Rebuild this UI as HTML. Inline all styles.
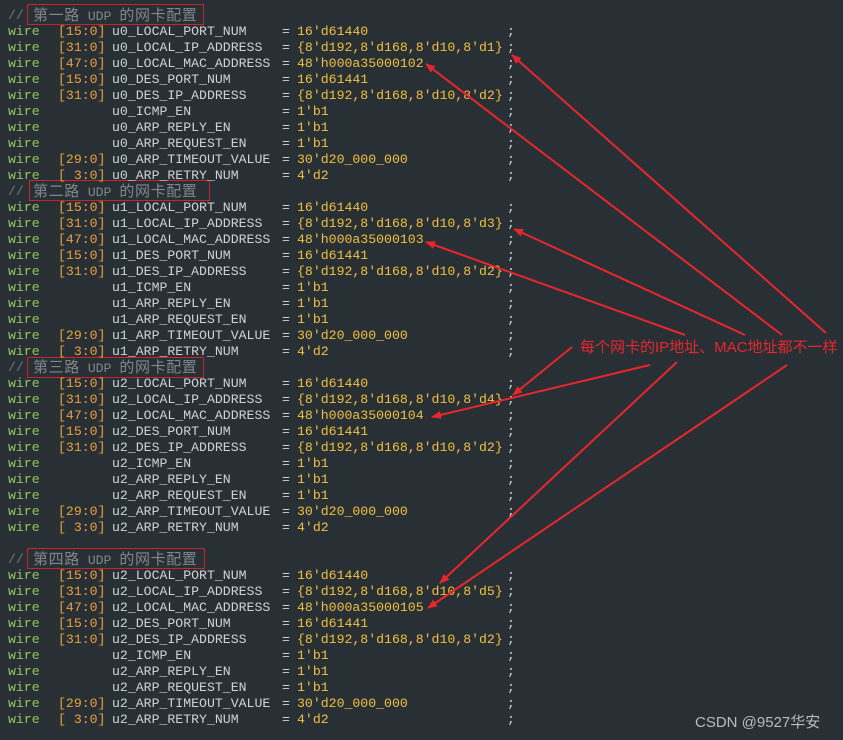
<!DOCTYPE html>
<html><head><meta charset="utf-8"><style>
html,body{margin:0;padding:0;}
body{width:843px;height:740px;background:#283035;position:relative;overflow:hidden;font-family:"Liberation Mono",monospace;font-size:13.2px;color:#cfd3d6;}
.r{position:absolute;left:0;height:16px;line-height:16px;white-space:pre;width:843px;}
.r span{position:absolute;top:0;}
.w{left:8px;color:#93c763}.b{left:58px;color:#e8a23a}.k{left:112px}.e{left:282px}.n{left:297px;color:#f0c040}.s{left:507px}
.c{left:8px;color:#6f7a80}
.cj{left:33px;top:-1px!important;color:#7d878c;font-family:"Liberation Mono","Noto Sans CJK SC",monospace;}
.cj i{font-style:normal;font-family:"Noto Sans CJK SC",sans-serif;font-size:15px;letter-spacing:0.6px;}
.box{position:absolute;height:19px;border:1px solid #c4262b;}
.lab{position:absolute;left:580px;top:338px;color:#e8262b;font-family:"Liberation Sans","Noto Sans CJK SC",sans-serif;font-size:15px;line-height:20px;white-space:nowrap;}
.wm{position:absolute;left:695px;top:711px;color:#b8bcbf;font-family:"Liberation Sans","Noto Sans CJK SC",sans-serif;font-size:15px;}
svg{position:absolute;left:0;top:0;}
</style></head><body>
<div class="box" style="left:27px;top:4px;width:175px;"></div>
<div class="box" style="left:29px;top:180px;width:179px;"></div>
<div class="box" style="left:27px;top:357px;width:175px;"></div>
<div class="box" style="left:27px;top:548px;width:176px;"></div>

<div class="r" style="top:8px"><span class="c">//</span><span class="cj"><i>第一路</i> UDP <i>的网卡配置</i></span></div>
<div class="r" style="top:24px"><span class="w">wire</span><span class="b">[15:0]</span><span class="k">u0_LOCAL_PORT_NUM</span><span class="e">=</span><span class="n">16'd61440</span><span class="s">;</span></div>
<div class="r" style="top:40px"><span class="w">wire</span><span class="b">[31:0]</span><span class="k">u0_LOCAL_IP_ADDRESS</span><span class="e">=</span><span class="n">{8'd192,8'd168,8'd10,8'd1}</span><span class="s">;</span></div>
<div class="r" style="top:56px"><span class="w">wire</span><span class="b">[47:0]</span><span class="k">u0_LOCAL_MAC_ADDRESS</span><span class="e">=</span><span class="n">48'h000a35000102</span><span class="s">;</span></div>
<div class="r" style="top:72px"><span class="w">wire</span><span class="b">[15:0]</span><span class="k">u0_DES_PORT_NUM</span><span class="e">=</span><span class="n">16'd61441</span><span class="s">;</span></div>
<div class="r" style="top:88px"><span class="w">wire</span><span class="b">[31:0]</span><span class="k">u0_DES_IP_ADDRESS</span><span class="e">=</span><span class="n">{8'd192,8'd168,8'd10,8'd2}</span><span class="s">;</span></div>
<div class="r" style="top:104px"><span class="w">wire</span><span class="k">u0_ICMP_EN</span><span class="e">=</span><span class="n">1'b1</span><span class="s">;</span></div>
<div class="r" style="top:120px"><span class="w">wire</span><span class="k">u0_ARP_REPLY_EN</span><span class="e">=</span><span class="n">1'b1</span><span class="s">;</span></div>
<div class="r" style="top:136px"><span class="w">wire</span><span class="k">u0_ARP_REQUEST_EN</span><span class="e">=</span><span class="n">1'b1</span><span class="s">;</span></div>
<div class="r" style="top:152px"><span class="w">wire</span><span class="b">[29:0]</span><span class="k">u0_ARP_TIMEOUT_VALUE</span><span class="e">=</span><span class="n">30'd20_000_000</span><span class="s">;</span></div>
<div class="r" style="top:168px"><span class="w">wire</span><span class="b">[ 3:0]</span><span class="k">u0_ARP_RETRY_NUM</span><span class="e">=</span><span class="n">4'd2</span><span class="s">;</span></div>

<div class="r" style="top:184px"><span class="c">//</span><span class="cj"><i>第二路</i> UDP <i>的网卡配置</i></span></div>
<div class="r" style="top:200px"><span class="w">wire</span><span class="b">[15:0]</span><span class="k">u1_LOCAL_PORT_NUM</span><span class="e">=</span><span class="n">16'd61440</span><span class="s">;</span></div>
<div class="r" style="top:216px"><span class="w">wire</span><span class="b">[31:0]</span><span class="k">u1_LOCAL_IP_ADDRESS</span><span class="e">=</span><span class="n">{8'd192,8'd168,8'd10,8'd3}</span><span class="s">;</span></div>
<div class="r" style="top:232px"><span class="w">wire</span><span class="b">[47:0]</span><span class="k">u1_LOCAL_MAC_ADDRESS</span><span class="e">=</span><span class="n">48'h000a35000103</span><span class="s">;</span></div>
<div class="r" style="top:248px"><span class="w">wire</span><span class="b">[15:0]</span><span class="k">u1_DES_PORT_NUM</span><span class="e">=</span><span class="n">16'd61441</span><span class="s">;</span></div>
<div class="r" style="top:264px"><span class="w">wire</span><span class="b">[31:0]</span><span class="k">u1_DES_IP_ADDRESS</span><span class="e">=</span><span class="n">{8'd192,8'd168,8'd10,8'd2}</span><span class="s">;</span></div>
<div class="r" style="top:280px"><span class="w">wire</span><span class="k">u1_ICMP_EN</span><span class="e">=</span><span class="n">1'b1</span><span class="s">;</span></div>
<div class="r" style="top:296px"><span class="w">wire</span><span class="k">u1_ARP_REPLY_EN</span><span class="e">=</span><span class="n">1'b1</span><span class="s">;</span></div>
<div class="r" style="top:312px"><span class="w">wire</span><span class="k">u1_ARP_REQUEST_EN</span><span class="e">=</span><span class="n">1'b1</span><span class="s">;</span></div>
<div class="r" style="top:328px"><span class="w">wire</span><span class="b">[29:0]</span><span class="k">u1_ARP_TIMEOUT_VALUE</span><span class="e">=</span><span class="n">30'd20_000_000</span><span class="s">;</span></div>
<div class="r" style="top:344px"><span class="w">wire</span><span class="b">[ 3:0]</span><span class="k">u1_ARP_RETRY_NUM</span><span class="e">=</span><span class="n">4'd2</span><span class="s">;</span></div>

<div class="r" style="top:360px"><span class="c">//</span><span class="cj"><i>第三路</i> UDP <i>的网卡配置</i></span></div>
<div class="r" style="top:376px"><span class="w">wire</span><span class="b">[15:0]</span><span class="k">u2_LOCAL_PORT_NUM</span><span class="e">=</span><span class="n">16'd61440</span><span class="s">;</span></div>
<div class="r" style="top:392px"><span class="w">wire</span><span class="b">[31:0]</span><span class="k">u2_LOCAL_IP_ADDRESS</span><span class="e">=</span><span class="n">{8'd192,8'd168,8'd10,8'd4}</span><span class="s">;</span></div>
<div class="r" style="top:408px"><span class="w">wire</span><span class="b">[47:0]</span><span class="k">u2_LOCAL_MAC_ADDRESS</span><span class="e">=</span><span class="n">48'h000a35000104</span><span class="s">;</span></div>
<div class="r" style="top:424px"><span class="w">wire</span><span class="b">[15:0]</span><span class="k">u2_DES_PORT_NUM</span><span class="e">=</span><span class="n">16'd61441</span><span class="s">;</span></div>
<div class="r" style="top:440px"><span class="w">wire</span><span class="b">[31:0]</span><span class="k">u2_DES_IP_ADDRESS</span><span class="e">=</span><span class="n">{8'd192,8'd168,8'd10,8'd2}</span><span class="s">;</span></div>
<div class="r" style="top:456px"><span class="w">wire</span><span class="k">u2_ICMP_EN</span><span class="e">=</span><span class="n">1'b1</span><span class="s">;</span></div>
<div class="r" style="top:472px"><span class="w">wire</span><span class="k">u2_ARP_REPLY_EN</span><span class="e">=</span><span class="n">1'b1</span><span class="s">;</span></div>
<div class="r" style="top:488px"><span class="w">wire</span><span class="k">u2_ARP_REQUEST_EN</span><span class="e">=</span><span class="n">1'b1</span><span class="s">;</span></div>
<div class="r" style="top:504px"><span class="w">wire</span><span class="b">[29:0]</span><span class="k">u2_ARP_TIMEOUT_VALUE</span><span class="e">=</span><span class="n">30'd20_000_000</span><span class="s">;</span></div>
<div class="r" style="top:520px"><span class="w">wire</span><span class="b">[ 3:0]</span><span class="k">u2_ARP_RETRY_NUM</span><span class="e">=</span><span class="n">4'd2</span></div>

<div class="r" style="top:552px"><span class="c">//</span><span class="cj"><i>第四路</i> UDP <i>的网卡配置</i></span></div>
<div class="r" style="top:568px"><span class="w">wire</span><span class="b">[15:0]</span><span class="k">u2_LOCAL_PORT_NUM</span><span class="e">=</span><span class="n">16'd61440</span><span class="s">;</span></div>
<div class="r" style="top:584px"><span class="w">wire</span><span class="b">[31:0]</span><span class="k">u2_LOCAL_IP_ADDRESS</span><span class="e">=</span><span class="n">{8'd192,8'd168,8'd10,8'd5}</span><span class="s">;</span></div>
<div class="r" style="top:600px"><span class="w">wire</span><span class="b">[47:0]</span><span class="k">u2_LOCAL_MAC_ADDRESS</span><span class="e">=</span><span class="n">48'h000a35000105</span><span class="s">;</span></div>
<div class="r" style="top:616px"><span class="w">wire</span><span class="b">[15:0]</span><span class="k">u2_DES_PORT_NUM</span><span class="e">=</span><span class="n">16'd61441</span><span class="s">;</span></div>
<div class="r" style="top:632px"><span class="w">wire</span><span class="b">[31:0]</span><span class="k">u2_DES_IP_ADDRESS</span><span class="e">=</span><span class="n">{8'd192,8'd168,8'd10,8'd2}</span><span class="s">;</span></div>
<div class="r" style="top:648px"><span class="w">wire</span><span class="k">u2_ICMP_EN</span><span class="e">=</span><span class="n">1'b1</span><span class="s">;</span></div>
<div class="r" style="top:664px"><span class="w">wire</span><span class="k">u2_ARP_REPLY_EN</span><span class="e">=</span><span class="n">1'b1</span><span class="s">;</span></div>
<div class="r" style="top:680px"><span class="w">wire</span><span class="k">u2_ARP_REQUEST_EN</span><span class="e">=</span><span class="n">1'b1</span><span class="s">;</span></div>
<div class="r" style="top:696px"><span class="w">wire</span><span class="b">[29:0]</span><span class="k">u2_ARP_TIMEOUT_VALUE</span><span class="e">=</span><span class="n">30'd20_000_000</span><span class="s">;</span></div>
<div class="r" style="top:712px"><span class="w">wire</span><span class="b">[ 3:0]</span><span class="k">u2_ARP_RETRY_NUM</span><span class="e">=</span><span class="n">4'd2</span><span class="s">;</span></div>

<svg width="843" height="740" viewBox="0 0 843 740">
<defs><marker id="a" markerWidth="10" markerHeight="8" refX="9" refY="4" orient="auto" markerUnits="userSpaceOnUse"><path d="M0,0 L10,4 L0,8 z" fill="#e8262b"/></marker></defs>
<g stroke="#e8262b" stroke-width="2" fill="none" marker-end="url(#a)">
<line x1="826" y1="333" x2="512" y2="55"/>
<line x1="782" y1="335" x2="426" y2="64"/>
<line x1="745" y1="335" x2="514" y2="229"/>
<line x1="685" y1="335" x2="426" y2="242"/>
<line x1="572" y1="347" x2="513" y2="395"/>
<line x1="650" y1="365" x2="432" y2="417"/>
<line x1="677" y1="362" x2="440" y2="583"/>
<line x1="787" y1="365" x2="428" y2="608"/>
</g>
</svg>
<div class="lab">每个网卡的IP地址、MAC地址都不一样</div>
<div class="wm">CSDN @9527华安</div>
</body></html>
